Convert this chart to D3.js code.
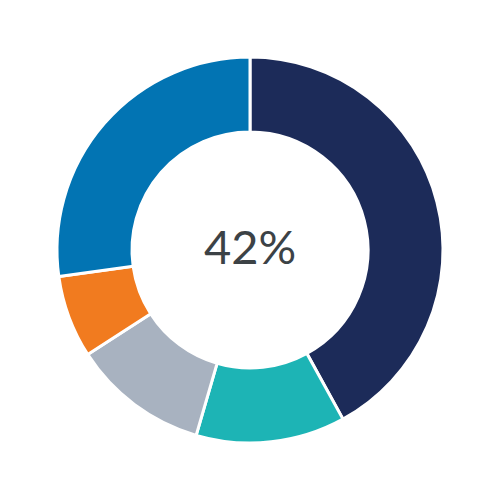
<!DOCTYPE html>
<html>
<head>
<meta charset="utf-8">
<script src="https://cdn.jsdelivr.net/npm/d3@7"></script>
<style>
  body { margin: 0; background: #fff; }
</style>
</head>
<body>
<div id="chart-area"></div>
<script>
// slice data, clockwise from 12 o'clock
const categories = ["A", "B", "C", "D", "E"];
const values = [42, 12.5, 11.4, 6.9, 27.2];
const colors = ["#1c2b59", "#1db4b5", "#a8b2c0", "#f17b1f", "#0274b3"];
const centerLabel = "42%";

const width = 500, height = 500;
const outerR = 193, innerR = 118;

const svg = d3.select("#chart-area").append("svg")
  .attr("width", width)
  .attr("height", height);

const g = svg.append("g")
  .attr("transform", "translate(" + 250 + "," + 250 + ")");

const color = d3.scaleOrdinal()
  .domain(categories)
  .range(colors);

const pie = d3.pie()
  .sort(null)
  .value(d => d.value);

const arc = d3.arc()
  .innerRadius(innerR)
  .outerRadius(outerR);

const data = categories.map((c, i) => ({ cat: c, value: values[i] }));

g.selectAll("path")
  .data(pie(data))
  .enter()
  .append("path")
  .attr("d", arc)
  .attr("fill", d => color(d.data.cat))
  .attr("stroke", "#fff")
  .attr("stroke-width", 3);

g.append("text")
  .attr("text-anchor", "middle")
  .attr("y", 14)
  .attr("font-family", "Lato, 'Open Sans', sans-serif")
  .attr("font-size", 47)
  .attr("fill", "#3c4246")
  .text(centerLabel);
</script>
</body>
</html>
